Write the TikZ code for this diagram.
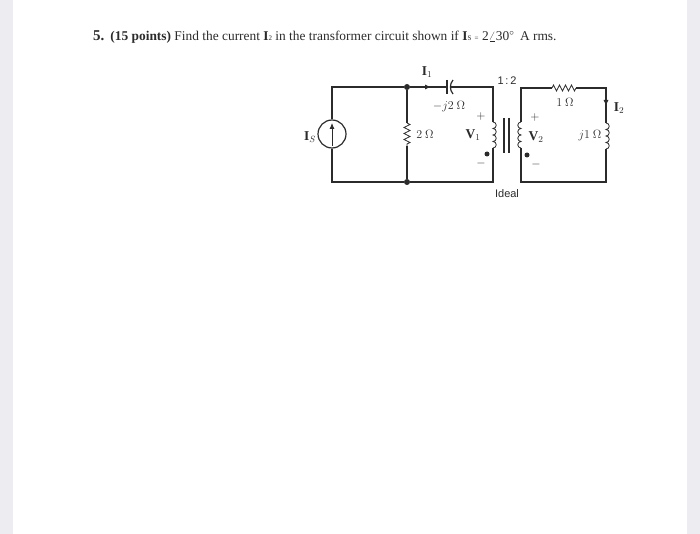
\documentclass[tikz,border=0pt]{standalone}
\usepackage{fontspec}
\setmainfont{Liberation Serif}
\setsansfont{Liberation Sans}
\usetikzlibrary{arrows.meta,decorations.pathmorphing}
\definecolor{ink}{HTML}{2B2B2B}
\definecolor{strip}{HTML}{ECECF1}
\tikzset{
	wire/.style={draw=ink,line width=1.2pt},
	thin wire/.style={draw=ink,line width=.8pt},
	arrow wire/.style={draw=ink,line width=.8pt,-{Latex[length=6pt,width=5pt]}},
	junction/.style={circle,fill=ink,inner sep=0pt,minimum size=6pt},
	polarity dot/.style={circle,fill=ink,inner sep=0pt,minimum size=5pt},
	source/.style={circle,draw=ink,line width=1.2pt,minimum size=28pt,inner sep=0pt},
	resistor/.style={thin wire,decorate,decoration={zigzag,segment length=6pt,amplitude=3pt}},
	lbl/.style={text=ink,inner sep=0pt,font=\fontsize{11.5}{13}\selectfont},
	sanslbl/.style={text=ink,inner sep=0pt,font=\sffamily\fontsize{11}{13}\selectfont},
	biglbl/.style={text=ink,inner sep=0pt,font=\fontsize{13.5}{15}\selectfont}
}
\newcommand{\bumpsright}{arc[start angle=-90,end angle=90,radius=3.25] arc[start angle=-90,end angle=90,radius=3.25] arc[start angle=-90,end angle=90,radius=3.25] arc[start angle=-90,end angle=90,radius=3.25]}
\newcommand{\bumpsleft}{arc[start angle=-90,end angle=-270,radius=3.25] arc[start angle=-90,end angle=-270,radius=3.25] arc[start angle=-90,end angle=-270,radius=3.25] arc[start angle=-90,end angle=-270,radius=3.25]}
\begin{document}
\begin{tikzpicture}[x=1pt,y=-1pt]
\useasboundingbox (0,0) rectangle (700,534);
\fill[strip] (0,0) rectangle (13,534);
\fill[strip] (687,0) rectangle (700,534);
\path
	(93,37.5) node [anchor=west,text=ink,inner sep=0pt,font=\fontsize{13.4}{15}\selectfont] (title) {\textbf{\fontsize{15}{15}\selectfont 5.}\hspace{6pt}\textbf{(15 points)} Find the current \textbf{I}{\scriptsize 2} in the transformer circuit shown if \textbf{I}{\scriptsize S} {\scriptsize =} 2$\angle$30$^{\circ}$\, A rms.}
	(332,134) node [source] (is) {}
	(407,87) node [junction] (topjoin) {}
	(407,182) node [junction] (botjoin) {}
	(487,154) node [polarity dot] (dotone) {}
	(527,155) node [polarity dot] (dottwo) {}
	(310,137) node [biglbl] (islabel) {$\mathbf{I}_{S}$}
	(427,72) node [biglbl] (ionelabel) {$\mathbf{I}_{1}$}
	(449,107) node [lbl] (caplabel) {$-j2\ \Omega$}
	(425,134) node [lbl] (rtwolabel) {$2\ \Omega$}
	(507,81) node [sanslbl] (ratio) {1\,:\,2}
	(565,102) node [lbl] (ronelabel) {$1\ \Omega$}
	(481,117) node [lbl] (plusone) {$+$}
	(473,135) node [biglbl] (vone) {$\mathbf{V}_{1}$}
	(481,164) node [lbl] (minusone) {$-$}
	(535,118) node [lbl] (plustwo) {$+$}
	(536,137) node [biglbl] (vtwo) {$\mathbf{V}_{2}$}
	(536,165) node [lbl] (minustwo) {$-$}
	(507,194) node [sanslbl] (ideal) {Ideal}
	(619,108) node [biglbl] (itwolabel) {$\mathbf{I}_{2}$}
	(590,136) node [lbl] (loadlabel) {$j1\ \Omega$};
\coordinate (tl) at (332,87);
\coordinate (bl) at (332,182);
\coordinate (capl) at (447,87);
\coordinate (capr) at (451,87);
\coordinate (pmid) at (493,87);
\coordinate (pa) at (493,122);
\coordinate (pb) at (493,148);
\coordinate (pbot) at (493,182);
\coordinate (stop) at (521,88);
\coordinate (sa) at (521,122);
\coordinate (sb) at (521,148);
\coordinate (sbot) at (521,182);
\coordinate (ra) at (552,88);
\coordinate (rb) at (576,88);
\coordinate (rtop) at (606,88);
\coordinate (la) at (606,123);
\coordinate (lb) at (606,149);
\coordinate (rbot) at (606,182);
\coordinate (ta) at (407,123);
\coordinate (tb) at (407,146);
\coordinate (bara) at (504,118);
\coordinate (barb) at (504,153);
\coordinate (barc) at (509,118);
\coordinate (bard) at (509,153);
\coordinate (srca) at (332,146);
\coordinate (srcb) at (332,123);
\coordinate (ionetip) at (431,87);
\coordinate (itwoa) at (606,97);
\coordinate (itwotip) at (606,106);
\draw[wire] (is) -- (tl) -- (topjoin) -- (capl);
\draw[wire] (is) -- (bl) -- (botjoin) -- (pbot) -- (pb);
\draw[wire] (topjoin) -- (ta);
\draw[wire] (tb) -- (botjoin);
\draw[resistor] (ta) -- (tb);
\draw[wire] (capl) ++(0,-7) -- ++(0,14);
\draw[wire] (capr) ++(2,-7) to[bend right=40] ++(0,14);
\draw[wire] (capr) -- (pmid) -- (pa);
\draw[thin wire] (pa) \bumpsright;
\draw[wire] (bara) -- (barb);
\draw[wire] (barc) -- (bard);
\draw[wire] (sa) -- (stop) -- (ra);
\draw[resistor] (ra) -- (rb);
\draw[wire] (rb) -- (rtop) -- (la);
\draw[thin wire] (la) \bumpsright;
\draw[wire] (lb) -- (rbot) -- (sbot) -- (sb);
\draw[thin wire] (sa) \bumpsleft;
\draw[arrow wire] (srca) -- (srcb);
\draw[arrow wire] (topjoin) -- (ionetip);
\draw[arrow wire] (itwoa) -- (itwotip);
\end{tikzpicture}
\end{document}
